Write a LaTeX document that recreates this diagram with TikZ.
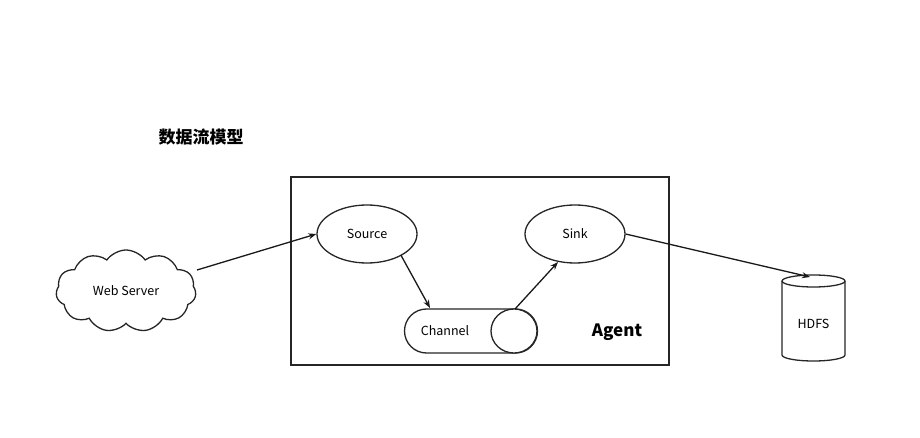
\documentclass[tikz,border=0pt]{standalone}
\usepackage{fontspec}
\setmainfont{Noto Sans CJK SC}
\usetikzlibrary{shapes.geometric,shapes.symbols,arrows.meta}
\begin{document}
\begin{tikzpicture}[x=1pt,y=-1pt,
  ln/.style={draw=black!85,line width=1.3pt},
  ell/.style={ln,ellipse,minimum width=100pt,minimum height=58pt,fill=white,font=\fontsize{12.5}{14}\selectfont},
  arr/.style={draw=black!90,line width=1.3pt,-{Stealth[length=8pt,width=6pt]}}]
\useasboundingbox[fill=white] (0,0) rectangle (920,438);
\node[font=\bfseries\fontsize{17}{19}\selectfont] (title) at (201,137) {数据流模型};
\draw[ln] (291,177) rectangle (669,365);
\node[font=\bfseries\fontsize{17}{19}\selectfont] (agent) at (617,332) {Agent};
\node[ell] (source) at (367,234) {Source};
\node[ell] (sink) at (575,234) {Sink};
\node[ln,rounded corners=22pt,minimum width=133pt,minimum height=44pt,inner sep=0pt] (channel) at (471,331) {};
\draw[ln,fill=white] (514,331) ellipse [x radius=23, y radius=22];
\node[font=\fontsize{12.5}{14}\selectfont] at (445,331) {Channel};
\node[ln,cloud,cloud puffs=11,cloud puff arc=110,aspect=1.7,minimum width=140pt,minimum height=82pt,inner sep=0pt,font=\fontsize{12.5}{14}\selectfont] (web) at (126,291) {Web Server};
\node[minimum width=63pt,minimum height=85pt,inner sep=0pt] (hdfs) at (813.5,318) {};
\draw[ln,fill=white] (782,281) -- (782,355) arc[start angle=180,end angle=0,x radius=31.5,y radius=6] -- (845,281);
\draw[ln,fill=white] (813.5,281) ellipse [x radius=31.5,y radius=6];
\node[font=\fontsize{12.5}{14}\selectfont] at (813.5,324) {HDFS};
\draw[arr] (197,270) -- (source.west);
\draw[arr] (source.south east) ++(-2,0) -- (430,308);
\draw[arr] (515,309) -- (558,262);
\draw[arr] (sink.east) -- (810,277);
\end{tikzpicture}
\end{document}
